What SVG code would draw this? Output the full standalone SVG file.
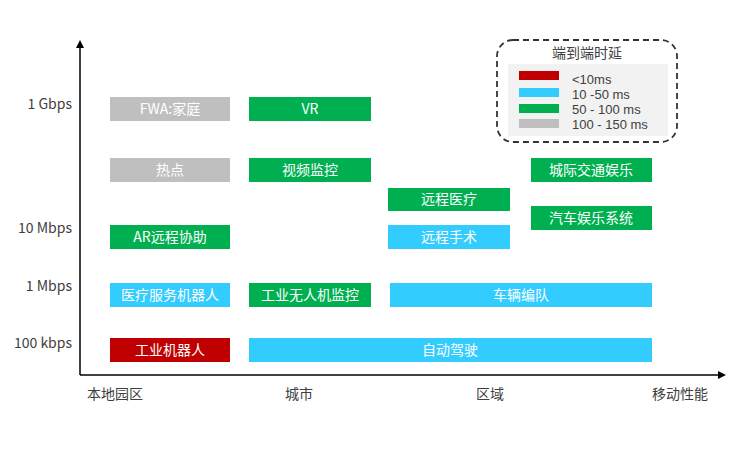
<svg xmlns="http://www.w3.org/2000/svg" width="744" height="452" viewBox="0 0 744 452">
<style>
text{font-family:"Noto Sans CJK SC","Liberation Sans",sans-serif;font-size:14px}
.l{fill:#404040;text-anchor:end}
.x{fill:#404040;text-anchor:middle}
.b{fill:#fff;text-anchor:middle}
.t{fill:#404040;font-size:13px;font-family:"Liberation Sans",sans-serif}
.r{fill:#C00000}.c{fill:#33CCFF}.g{fill:#00B050}.y{fill:#BFBFBF}
</style>
<defs><marker id="a" markerWidth="8" markerHeight="8" refX="6" refY="4" orient="auto" markerUnits="userSpaceOnUse"><path d="M0,0L8,4L0,8z" fill="#000"/></marker></defs>
<g id="axes" stroke="#000" stroke-width="1.5">
<line x1="80" y1="375" x2="80" y2="42" marker-end="url(#a)"/>
<line x1="80" y1="375" x2="724" y2="375" marker-end="url(#a)"/>
</g>
<g id="labels">
<text class="l" x="72" y="109">1 Gbps</text>
<text class="l" x="72" y="233">10 Mbps</text>
<text class="l" x="72" y="291">1 Mbps</text>
<text class="l" x="72" y="348">100 kbps</text>
<text class="x" x="115" y="399">本地园区</text>
<text class="x" x="299" y="399">城市</text>
<text class="x" x="490" y="399">区域</text>
<text class="x" x="680" y="399">移动性能</text>
</g>
<g id="bars">
<rect class="y" x="110" y="97" width="120" height="24"/><text class="b" x="170" y="114">FWA:家庭</text>
<rect class="g" x="249" y="97" width="122" height="24"/><text class="b" x="310" y="114">VR</text>
<rect class="y" x="110" y="158" width="120" height="24"/><text class="b" x="170" y="175">热点</text>
<rect class="g" x="249" y="158" width="122" height="24"/><text class="b" x="310" y="175">视频监控</text>
<rect class="g" x="388" y="188" width="122" height="23"/><text class="b" x="449" y="204">远程医疗</text>
<rect class="g" x="531" y="158" width="121" height="24"/><text class="b" x="591" y="175">城际交通娱乐</text>
<rect class="g" x="531" y="206" width="121" height="24"/><text class="b" x="591" y="223">汽车娱乐系统</text>
<rect class="g" x="110" y="225" width="120" height="24"/><text class="b" x="170" y="242">AR远程协助</text>
<rect class="c" x="388" y="225" width="122" height="24"/><text class="b" x="449" y="242">远程手术</text>
<rect class="c" x="110" y="283" width="120" height="24"/><text class="b" x="170" y="300">医疗服务机器人</text>
<rect class="g" x="249" y="283" width="122" height="24"/><text class="b" x="310" y="300">工业无人机监控</text>
<rect class="c" x="390" y="283" width="262" height="24"/><text class="b" x="521" y="300">车辆编队</text>
<rect class="r" x="110" y="338" width="120" height="24"/><text class="b" x="170" y="355">工业机器人</text>
<rect class="c" x="249" y="338" width="403" height="24"/><text class="b" x="450" y="355">自动驾驶</text>
</g>
<g id="legend">
<rect x="497" y="40" width="180" height="102" rx="16" fill="#fff" stroke="#333" stroke-width="1.8" stroke-dasharray="6,4"/>
<text x="587" y="58" class="x">端到端时延</text>
<rect x="508" y="64" width="160" height="72" fill="#F2F2F2"/>
<rect class="r" x="519" y="71" width="40" height="9"/>
<rect class="c" x="519" y="88" width="40" height="9"/>
<rect class="g" x="519" y="104" width="40" height="9"/>
<rect class="y" x="519" y="119" width="40" height="9"/>
<text class="t" x="572" y="84">&lt;10ms</text>
<text class="t" x="572" y="99">10 -50 ms</text>
<text class="t" x="572" y="114">50 - 100 ms</text>
<text class="t" x="572" y="129">100 - 150 ms</text>
</g>
</svg>
